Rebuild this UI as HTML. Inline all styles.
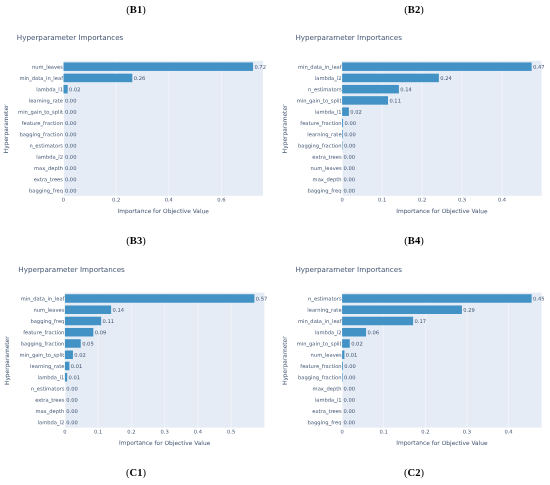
<!DOCTYPE html>
<html lang="en"><head><meta charset="utf-8"><title>Hyperparameter Importances</title>
<style>
html,body{margin:0;padding:0;background:#fff;}
body{width:550px;height:485px;overflow:hidden;}
svg{display:block;}
.p{font-family:"DejaVu Sans","Liberation Sans",sans-serif;fill:#2a3f5f;fill-opacity:0.9;}
.t{font-size:7.18px;}
.k{font-size:5.2px;}
.a{font-size:5.88px;}
.c{font-family:"Liberation Serif",serif;font-size:10.6px;fill:#000;text-anchor:middle;}
.c tspan{font-weight:bold;}
</style></head><body>
<svg width="550" height="485" viewBox="0 0 550 485">
<rect width="550" height="485" fill="#fff"/>
<g>
<text class="c" x="136" y="12.5">(<tspan>B1</tspan>)</text>
<text class="p t" x="16.8" y="39.9" transform="rotate(0.05 16.8 39.9)">Hyperparameter Importances</text>
<rect x="63.5" y="60.8" width="199.5" height="135" fill="#e5ecf6"/>
<line x1="63.5" y1="60.8" x2="63.5" y2="195.8" stroke="#fff" stroke-width="0.8"/>
<text class="p k" text-anchor="middle" x="63.5" y="201.6" transform="rotate(0.05 63.5 201.6)">0</text>
<line x1="116.15" y1="60.8" x2="116.15" y2="195.8" stroke="#fff" stroke-width="0.45"/>
<text class="p k" text-anchor="middle" x="116.15" y="201.6" transform="rotate(0.05 116.15 201.6)">0.2</text>
<line x1="168.79" y1="60.8" x2="168.79" y2="195.8" stroke="#fff" stroke-width="0.45"/>
<text class="p k" text-anchor="middle" x="168.79" y="201.6" transform="rotate(0.05 168.79 201.6)">0.4</text>
<line x1="221.44" y1="60.8" x2="221.44" y2="195.8" stroke="#fff" stroke-width="0.45"/>
<text class="p k" text-anchor="middle" x="221.44" y="201.6" transform="rotate(0.05 221.44 201.6)">0.6</text>
<rect x="63.5" y="62.42" width="189.53" height="8.5" fill="#4292c6"/>
<text class="p k" text-anchor="end" x="63" y="68.77" transform="rotate(0.05 63 68.77)">num_leaves</text>
<text class="p k" x="254.43" y="68.77" transform="rotate(0.05 254.43 68.77)">0.72</text>
<rect x="63.5" y="73.67" width="68.83" height="8.5" fill="#4292c6"/>
<text class="p k" text-anchor="end" x="63" y="80.02" transform="rotate(0.05 63 80.02)">min_data_in_leaf</text>
<text class="p k" x="133.73" y="80.02" transform="rotate(0.05 133.73 80.02)">0.26</text>
<rect x="63.5" y="84.92" width="4.21" height="8.5" fill="#4292c6"/>
<text class="p k" text-anchor="end" x="63" y="91.27" transform="rotate(0.05 63 91.27)">lambda_l1</text>
<text class="p k" x="69.11" y="91.27" transform="rotate(0.05 69.11 91.27)">0.02</text>
<text class="p k" text-anchor="end" x="63" y="102.52" transform="rotate(0.05 63 102.52)">learning_rate</text>
<text class="p k" x="64.9" y="102.52" transform="rotate(0.05 64.9 102.52)">0.00</text>
<text class="p k" text-anchor="end" x="63" y="113.77" transform="rotate(0.05 63 113.77)">min_gain_to_split</text>
<text class="p k" x="64.9" y="113.77" transform="rotate(0.05 64.9 113.77)">0.00</text>
<text class="p k" text-anchor="end" x="63" y="125.02" transform="rotate(0.05 63 125.02)">feature_fraction</text>
<text class="p k" x="64.9" y="125.02" transform="rotate(0.05 64.9 125.02)">0.00</text>
<text class="p k" text-anchor="end" x="63" y="136.28" transform="rotate(0.05 63 136.28)">bagging_fraction</text>
<text class="p k" x="64.9" y="136.28" transform="rotate(0.05 64.9 136.28)">0.00</text>
<text class="p k" text-anchor="end" x="63" y="147.53" transform="rotate(0.05 63 147.53)">n_estimators</text>
<text class="p k" x="64.9" y="147.53" transform="rotate(0.05 64.9 147.53)">0.00</text>
<text class="p k" text-anchor="end" x="63" y="158.78" transform="rotate(0.05 63 158.78)">lambda_l2</text>
<text class="p k" x="64.9" y="158.78" transform="rotate(0.05 64.9 158.78)">0.00</text>
<text class="p k" text-anchor="end" x="63" y="170.03" transform="rotate(0.05 63 170.03)">max_depth</text>
<text class="p k" x="64.9" y="170.03" transform="rotate(0.05 64.9 170.03)">0.00</text>
<text class="p k" text-anchor="end" x="63" y="181.28" transform="rotate(0.05 63 181.28)">extra_trees</text>
<text class="p k" x="64.9" y="181.28" transform="rotate(0.05 64.9 181.28)">0.00</text>
<text class="p k" text-anchor="end" x="63" y="192.53" transform="rotate(0.05 63 192.53)">bagging_freq</text>
<text class="p k" x="64.9" y="192.53" transform="rotate(0.05 64.9 192.53)">0.00</text>
<text class="p a" text-anchor="middle" x="163.25" y="213.1" transform="rotate(0.05 163.25 213.1)">Importance for Objective Value</text>
<text class="p a" text-anchor="middle" transform="translate(8 128.9) rotate(-89.95)">Hyperparameter</text>
</g>
<g>
<text class="c" x="414" y="12.5">(<tspan>B2</tspan>)</text>
<text class="p t" x="295.4" y="39.9" transform="rotate(0.05 295.4 39.9)">Hyperparameter Importances</text>
<rect x="342.1" y="60.8" width="199.5" height="135" fill="#e5ecf6"/>
<line x1="342.1" y1="60.8" x2="342.1" y2="195.8" stroke="#fff" stroke-width="0.8"/>
<text class="p k" text-anchor="middle" x="342.1" y="201.6" transform="rotate(0.05 342.1 201.6)">0</text>
<line x1="382.08" y1="60.8" x2="382.08" y2="195.8" stroke="#fff" stroke-width="0.45"/>
<text class="p k" text-anchor="middle" x="382.08" y="201.6" transform="rotate(0.05 382.08 201.6)">0.1</text>
<line x1="422.07" y1="60.8" x2="422.07" y2="195.8" stroke="#fff" stroke-width="0.45"/>
<text class="p k" text-anchor="middle" x="422.07" y="201.6" transform="rotate(0.05 422.07 201.6)">0.2</text>
<line x1="462.05" y1="60.8" x2="462.05" y2="195.8" stroke="#fff" stroke-width="0.45"/>
<text class="p k" text-anchor="middle" x="462.05" y="201.6" transform="rotate(0.05 462.05 201.6)">0.3</text>
<line x1="502.04" y1="60.8" x2="502.04" y2="195.8" stroke="#fff" stroke-width="0.45"/>
<text class="p k" text-anchor="middle" x="502.04" y="201.6" transform="rotate(0.05 502.04 201.6)">0.4</text>
<rect x="342.1" y="62.42" width="189.53" height="8.5" fill="#4292c6"/>
<text class="p k" text-anchor="end" x="341.6" y="68.77" transform="rotate(0.05 341.6 68.77)">min_data_in_leaf</text>
<text class="p k" x="533.02" y="68.77" transform="rotate(0.05 533.02 68.77)">0.47</text>
<rect x="342.1" y="73.67" width="96.76" height="8.5" fill="#4292c6"/>
<text class="p k" text-anchor="end" x="341.6" y="80.02" transform="rotate(0.05 341.6 80.02)">lambda_l2</text>
<text class="p k" x="440.26" y="80.02" transform="rotate(0.05 440.26 80.02)">0.24</text>
<rect x="342.1" y="84.92" width="56.78" height="8.5" fill="#4292c6"/>
<text class="p k" text-anchor="end" x="341.6" y="91.27" transform="rotate(0.05 341.6 91.27)">n_estimators</text>
<text class="p k" x="400.28" y="91.27" transform="rotate(0.05 400.28 91.27)">0.14</text>
<rect x="342.1" y="96.17" width="45.9" height="8.5" fill="#4292c6"/>
<text class="p k" text-anchor="end" x="341.6" y="102.52" transform="rotate(0.05 341.6 102.52)">min_gain_to_split</text>
<text class="p k" x="389.4" y="102.52" transform="rotate(0.05 389.4 102.52)">0.11</text>
<rect x="342.1" y="107.42" width="6.8" height="8.5" fill="#4292c6"/>
<text class="p k" text-anchor="end" x="341.6" y="113.77" transform="rotate(0.05 341.6 113.77)">lambda_l1</text>
<text class="p k" x="350.3" y="113.77" transform="rotate(0.05 350.3 113.77)">0.02</text>
<rect x="342.1" y="118.67" width="0.96" height="8.5" fill="#4292c6"/>
<text class="p k" text-anchor="end" x="341.6" y="125.02" transform="rotate(0.05 341.6 125.02)">feature_fraction</text>
<text class="p k" x="344.46" y="125.02" transform="rotate(0.05 344.46 125.02)">0.00</text>
<rect x="342.1" y="129.93" width="0.72" height="8.5" fill="#4292c6"/>
<text class="p k" text-anchor="end" x="341.6" y="136.28" transform="rotate(0.05 341.6 136.28)">learning_rate</text>
<text class="p k" x="344.22" y="136.28" transform="rotate(0.05 344.22 136.28)">0.00</text>
<rect x="342.1" y="141.18" width="0.48" height="8.5" fill="#4292c6"/>
<text class="p k" text-anchor="end" x="341.6" y="147.53" transform="rotate(0.05 341.6 147.53)">bagging_fraction</text>
<text class="p k" x="343.98" y="147.53" transform="rotate(0.05 343.98 147.53)">0.00</text>
<text class="p k" text-anchor="end" x="341.6" y="158.78" transform="rotate(0.05 341.6 158.78)">extra_trees</text>
<text class="p k" x="343.5" y="158.78" transform="rotate(0.05 343.5 158.78)">0.00</text>
<text class="p k" text-anchor="end" x="341.6" y="170.03" transform="rotate(0.05 341.6 170.03)">num_leaves</text>
<text class="p k" x="343.5" y="170.03" transform="rotate(0.05 343.5 170.03)">0.00</text>
<text class="p k" text-anchor="end" x="341.6" y="181.28" transform="rotate(0.05 341.6 181.28)">max_depth</text>
<text class="p k" x="343.5" y="181.28" transform="rotate(0.05 343.5 181.28)">0.00</text>
<text class="p k" text-anchor="end" x="341.6" y="192.53" transform="rotate(0.05 341.6 192.53)">bagging_freq</text>
<text class="p k" x="343.5" y="192.53" transform="rotate(0.05 343.5 192.53)">0.00</text>
<text class="p a" text-anchor="middle" x="441.85" y="213.1" transform="rotate(0.05 441.85 213.1)">Importance for Objective Value</text>
<text class="p a" text-anchor="middle" transform="translate(286.8 128.9) rotate(-89.95)">Hyperparameter</text>
</g>
<g>
<text class="c" x="136" y="244.1">(<tspan>B3</tspan>)</text>
<text class="p t" x="18.3" y="271.9" transform="rotate(0.05 18.3 271.9)">Hyperparameter Importances</text>
<rect x="64.9" y="292.6" width="199.5" height="135" fill="#e5ecf6"/>
<line x1="64.9" y1="292.6" x2="64.9" y2="427.6" stroke="#fff" stroke-width="0.8"/>
<text class="p k" text-anchor="middle" x="64.9" y="433.4" transform="rotate(0.05 64.9 433.4)">0</text>
<line x1="98.15" y1="292.6" x2="98.15" y2="427.6" stroke="#fff" stroke-width="0.45"/>
<text class="p k" text-anchor="middle" x="98.15" y="433.4" transform="rotate(0.05 98.15 433.4)">0.1</text>
<line x1="131.4" y1="292.6" x2="131.4" y2="427.6" stroke="#fff" stroke-width="0.45"/>
<text class="p k" text-anchor="middle" x="131.4" y="433.4" transform="rotate(0.05 131.4 433.4)">0.2</text>
<line x1="164.65" y1="292.6" x2="164.65" y2="427.6" stroke="#fff" stroke-width="0.45"/>
<text class="p k" text-anchor="middle" x="164.65" y="433.4" transform="rotate(0.05 164.65 433.4)">0.3</text>
<line x1="197.9" y1="292.6" x2="197.9" y2="427.6" stroke="#fff" stroke-width="0.45"/>
<text class="p k" text-anchor="middle" x="197.9" y="433.4" transform="rotate(0.05 197.9 433.4)">0.4</text>
<line x1="231.15" y1="292.6" x2="231.15" y2="427.6" stroke="#fff" stroke-width="0.45"/>
<text class="p k" text-anchor="middle" x="231.15" y="433.4" transform="rotate(0.05 231.15 433.4)">0.5</text>
<rect x="64.9" y="294.23" width="189.52" height="8.5" fill="#4292c6"/>
<text class="p k" text-anchor="end" x="64.4" y="300.58" transform="rotate(0.05 64.4 300.58)">min_data_in_leaf</text>
<text class="p k" x="255.82" y="300.58" transform="rotate(0.05 255.82 300.58)">0.57</text>
<rect x="64.9" y="305.48" width="46.22" height="8.5" fill="#4292c6"/>
<text class="p k" text-anchor="end" x="64.4" y="311.83" transform="rotate(0.05 64.4 311.83)">num_leaves</text>
<text class="p k" x="112.52" y="311.83" transform="rotate(0.05 112.52 311.83)">0.14</text>
<rect x="64.9" y="316.73" width="36.24" height="8.5" fill="#4292c6"/>
<text class="p k" text-anchor="end" x="64.4" y="323.08" transform="rotate(0.05 64.4 323.08)">bagging_freq</text>
<text class="p k" x="102.54" y="323.08" transform="rotate(0.05 102.54 323.08)">0.11</text>
<rect x="64.9" y="327.98" width="28.43" height="8.5" fill="#4292c6"/>
<text class="p k" text-anchor="end" x="64.4" y="334.33" transform="rotate(0.05 64.4 334.33)">feature_fraction</text>
<text class="p k" x="94.73" y="334.33" transform="rotate(0.05 94.73 334.33)">0.09</text>
<rect x="64.9" y="339.23" width="15.86" height="8.5" fill="#4292c6"/>
<text class="p k" text-anchor="end" x="64.4" y="345.58" transform="rotate(0.05 64.4 345.58)">bagging_fraction</text>
<text class="p k" x="82.16" y="345.58" transform="rotate(0.05 82.16 345.58)">0.05</text>
<rect x="64.9" y="350.48" width="8.05" height="8.5" fill="#4292c6"/>
<text class="p k" text-anchor="end" x="64.4" y="356.83" transform="rotate(0.05 64.4 356.83)">min_gain_to_split</text>
<text class="p k" x="74.35" y="356.83" transform="rotate(0.05 74.35 356.83)">0.02</text>
<rect x="64.9" y="361.73" width="4.52" height="8.5" fill="#4292c6"/>
<text class="p k" text-anchor="end" x="64.4" y="368.08" transform="rotate(0.05 64.4 368.08)">learning_rate</text>
<text class="p k" x="70.82" y="368.08" transform="rotate(0.05 70.82 368.08)">0.01</text>
<rect x="64.9" y="372.98" width="2.26" height="8.5" fill="#4292c6"/>
<text class="p k" text-anchor="end" x="64.4" y="379.33" transform="rotate(0.05 64.4 379.33)">lambda_l1</text>
<text class="p k" x="68.56" y="379.33" transform="rotate(0.05 68.56 379.33)">0.01</text>
<text class="p k" text-anchor="end" x="64.4" y="390.58" transform="rotate(0.05 64.4 390.58)">n_estimators</text>
<text class="p k" x="66.3" y="390.58" transform="rotate(0.05 66.3 390.58)">0.00</text>
<text class="p k" text-anchor="end" x="64.4" y="401.83" transform="rotate(0.05 64.4 401.83)">extra_trees</text>
<text class="p k" x="66.3" y="401.83" transform="rotate(0.05 66.3 401.83)">0.00</text>
<text class="p k" text-anchor="end" x="64.4" y="413.08" transform="rotate(0.05 64.4 413.08)">max_depth</text>
<text class="p k" x="66.3" y="413.08" transform="rotate(0.05 66.3 413.08)">0.00</text>
<text class="p k" text-anchor="end" x="64.4" y="424.33" transform="rotate(0.05 64.4 424.33)">lambda_l2</text>
<text class="p k" x="66.3" y="424.33" transform="rotate(0.05 66.3 424.33)">0.00</text>
<text class="p a" text-anchor="middle" x="164.65" y="444.9" transform="rotate(0.05 164.65 444.9)">Importance for Objective Value</text>
<text class="p a" text-anchor="middle" transform="translate(9 360.7) rotate(-89.95)">Hyperparameter</text>
</g>
<g>
<text class="c" x="414" y="244.1">(<tspan>B4</tspan>)</text>
<text class="p t" x="295.4" y="271.9" transform="rotate(0.05 295.4 271.9)">Hyperparameter Importances</text>
<rect x="342.1" y="292.6" width="199.5" height="135" fill="#e5ecf6"/>
<line x1="342.1" y1="292.6" x2="342.1" y2="427.6" stroke="#fff" stroke-width="0.8"/>
<text class="p k" text-anchor="middle" x="342.1" y="433.4" transform="rotate(0.05 342.1 433.4)">0</text>
<line x1="383.71" y1="292.6" x2="383.71" y2="427.6" stroke="#fff" stroke-width="0.45"/>
<text class="p k" text-anchor="middle" x="383.71" y="433.4" transform="rotate(0.05 383.71 433.4)">0.1</text>
<line x1="425.32" y1="292.6" x2="425.32" y2="427.6" stroke="#fff" stroke-width="0.45"/>
<text class="p k" text-anchor="middle" x="425.32" y="433.4" transform="rotate(0.05 425.32 433.4)">0.2</text>
<line x1="466.92" y1="292.6" x2="466.92" y2="427.6" stroke="#fff" stroke-width="0.45"/>
<text class="p k" text-anchor="middle" x="466.92" y="433.4" transform="rotate(0.05 466.92 433.4)">0.3</text>
<line x1="508.53" y1="292.6" x2="508.53" y2="427.6" stroke="#fff" stroke-width="0.45"/>
<text class="p k" text-anchor="middle" x="508.53" y="433.4" transform="rotate(0.05 508.53 433.4)">0.4</text>
<rect x="342.1" y="294.23" width="189.53" height="8.5" fill="#4292c6"/>
<text class="p k" text-anchor="end" x="341.6" y="300.58" transform="rotate(0.05 341.6 300.58)">n_estimators</text>
<text class="p k" x="533.02" y="300.58" transform="rotate(0.05 533.02 300.58)">0.45</text>
<rect x="342.1" y="305.48" width="119.83" height="8.5" fill="#4292c6"/>
<text class="p k" text-anchor="end" x="341.6" y="311.83" transform="rotate(0.05 341.6 311.83)">learning_rate</text>
<text class="p k" x="463.33" y="311.83" transform="rotate(0.05 463.33 311.83)">0.29</text>
<rect x="342.1" y="316.73" width="71.03" height="8.5" fill="#4292c6"/>
<text class="p k" text-anchor="end" x="341.6" y="323.08" transform="rotate(0.05 341.6 323.08)">min_data_in_leaf</text>
<text class="p k" x="414.53" y="323.08" transform="rotate(0.05 414.53 323.08)">0.17</text>
<rect x="342.1" y="327.98" width="23.97" height="8.5" fill="#4292c6"/>
<text class="p k" text-anchor="end" x="341.6" y="334.33" transform="rotate(0.05 341.6 334.33)">lambda_l2</text>
<text class="p k" x="367.47" y="334.33" transform="rotate(0.05 367.47 334.33)">0.06</text>
<rect x="342.1" y="339.23" width="7.66" height="8.5" fill="#4292c6"/>
<text class="p k" text-anchor="end" x="341.6" y="345.58" transform="rotate(0.05 341.6 345.58)">min_gain_to_split</text>
<text class="p k" x="351.16" y="345.58" transform="rotate(0.05 351.16 345.58)">0.02</text>
<rect x="342.1" y="350.48" width="2.33" height="8.5" fill="#4292c6"/>
<text class="p k" text-anchor="end" x="341.6" y="356.83" transform="rotate(0.05 341.6 356.83)">num_leaves</text>
<text class="p k" x="345.83" y="356.83" transform="rotate(0.05 345.83 356.83)">0.01</text>
<rect x="342.1" y="361.73" width="0.83" height="8.5" fill="#4292c6"/>
<text class="p k" text-anchor="end" x="341.6" y="368.08" transform="rotate(0.05 341.6 368.08)">feature_fraction</text>
<text class="p k" x="344.33" y="368.08" transform="rotate(0.05 344.33 368.08)">0.00</text>
<rect x="342.1" y="372.98" width="0.62" height="8.5" fill="#4292c6"/>
<text class="p k" text-anchor="end" x="341.6" y="379.33" transform="rotate(0.05 341.6 379.33)">bagging_fraction</text>
<text class="p k" x="344.12" y="379.33" transform="rotate(0.05 344.12 379.33)">0.00</text>
<text class="p k" text-anchor="end" x="341.6" y="390.58" transform="rotate(0.05 341.6 390.58)">max_depth</text>
<text class="p k" x="343.5" y="390.58" transform="rotate(0.05 343.5 390.58)">0.00</text>
<text class="p k" text-anchor="end" x="341.6" y="401.83" transform="rotate(0.05 341.6 401.83)">lambda_l1</text>
<text class="p k" x="343.5" y="401.83" transform="rotate(0.05 343.5 401.83)">0.00</text>
<text class="p k" text-anchor="end" x="341.6" y="413.08" transform="rotate(0.05 341.6 413.08)">extra_trees</text>
<text class="p k" x="343.5" y="413.08" transform="rotate(0.05 343.5 413.08)">0.00</text>
<text class="p k" text-anchor="end" x="341.6" y="424.33" transform="rotate(0.05 341.6 424.33)">bagging_freq</text>
<text class="p k" x="343.5" y="424.33" transform="rotate(0.05 343.5 424.33)">0.00</text>
<text class="p a" text-anchor="middle" x="441.85" y="444.9" transform="rotate(0.05 441.85 444.9)">Importance for Objective Value</text>
<text class="p a" text-anchor="middle" transform="translate(286.8 360.7) rotate(-89.95)">Hyperparameter</text>
</g>
<text class="c" x="136" y="476.1">(<tspan>C1</tspan>)</text>
<text class="c" x="414" y="476.1">(<tspan>C2</tspan>)</text>
</svg></body></html>
